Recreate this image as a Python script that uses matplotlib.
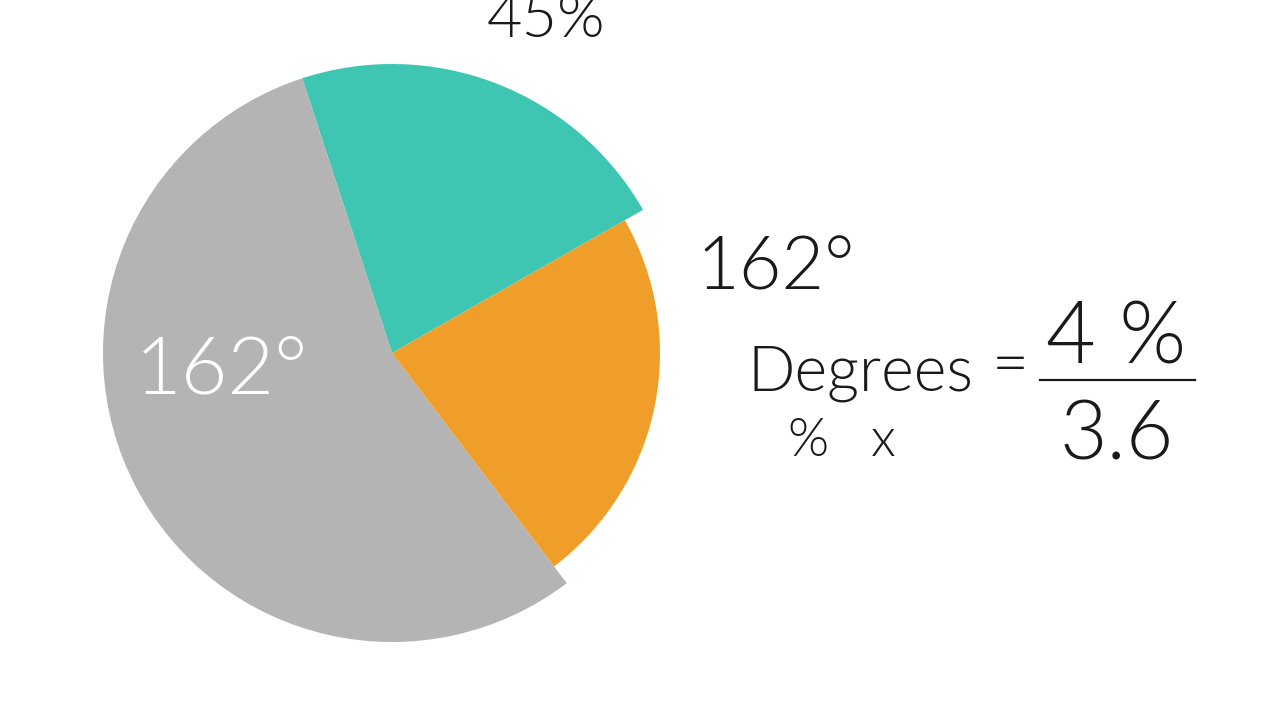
import matplotlib.pyplot as plt

# -------------------------
# Data (slice angles in degrees)
# -------------------------
slice_names = ['teal', 'gray', 'orange']
slice_deg = [78.4, 199.1, 82.5]
slice_colors = ['#3EC6B3', '#B4B4B4', '#F09E2A']
start_deg = 29.7

gray_label = '162°'
top_label = '45%'
right_label = '162°'

# -------------------------
# Figure in pixel-like units
# -------------------------
W, H = 1280, 720
fig = plt.figure(figsize=(12.8, 7.2), dpi=100)
ax = fig.add_axes([0, 0, 1, 1])

cx, cy = 392, H - 353
r_full = 289
r_orange = 268

wedges, _ = ax.pie(slice_deg, colors=slice_colors, startangle=start_deg,
                   counterclock=True, center=(cx, cy), radius=r_full,
                   wedgeprops=dict(linewidth=0))
wedges[2].set_radius(r_orange)

ax.set_xlim(0, W)
ax.set_ylim(0, H)
ax.set_aspect('equal')
ax.axis('off')

fam = ['Lato', 'DejaVu Sans']
txt = dict(family=fam, fontweight=300, color='#1a1a1a')

# labels
ax.text(546, H - 37, top_label, ha='center', va='baseline', fontsize=44, **txt)
ax.text(776, H - 290, right_label, ha='center', va='baseline', fontsize=53, **txt)
ax.text(221, H - 394, gray_label, ha='center', va='baseline', fontsize=58,
        family=fam, fontweight=300, color='white')

# formula
ax.text(748, H - 390, 'Degrees', ha='left', va='baseline', fontsize=45, **txt)
ax.text(1010, H - 384, '=', ha='center', va='baseline', fontsize=46, **txt)
ax.text(1116, H - 364, '4 %', ha='center', va='baseline', fontsize=62, **txt)
ax.plot([1040, 1195], [H - 380, H - 380], color='#1a1a1a', linewidth=1.6)
ax.text(1117, H - 460, '3.6', ha='center', va='baseline', fontsize=59, **txt)
ax.text(808, H - 456, '%', ha='center', va='baseline', fontsize=38, **txt)
ax.text(883, H - 456, 'x', ha='center', va='baseline', fontsize=38, **txt)

fig.savefig('out.png', dpi=100, facecolor='white')
